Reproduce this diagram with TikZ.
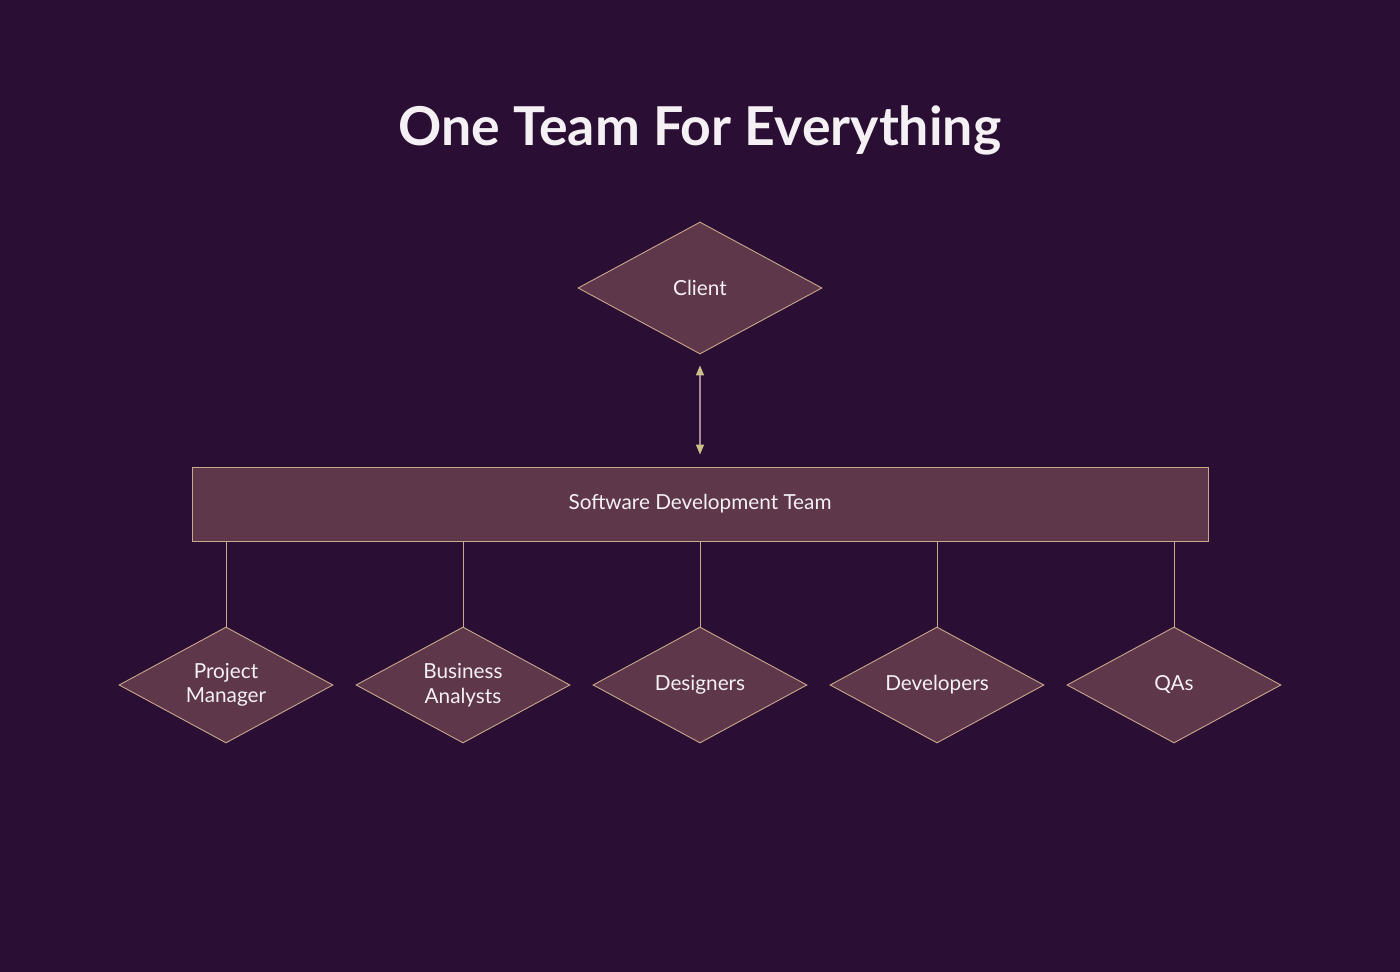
\documentclass[tikz,border=0pt]{standalone}
\usepackage{fontspec}
\setmainfont{Lato}
\usepackage{xcolor}
\usetikzlibrary{shapes.geometric, arrows.meta, positioning}

\definecolor{bgpurple}{HTML}{2A0E33}
\definecolor{boxfill}{HTML}{5E374A}
\definecolor{edgetan}{HTML}{C9A98C}
\definecolor{linkgrey}{HTML}{A68A98}
\definecolor{tipgold}{HTML}{CDBF8A}
\definecolor{textwhite}{HTML}{F4F0F4}

\begin{document}
\begin{tikzpicture}[>=Triangle, node distance=3.62cm]
            \tikzstyle{role} = [draw=edgetan, fill=boxfill, diamond, aspect=1.85, line width=0.5pt, inner sep=0pt, minimum width=4.28cm, minimum height=2.32cm, text=textwhite, align=center, font=\fontsize{11.8}{14}\selectfont]
            \tikzstyle{client} = [role, minimum width=4.88cm, minimum height=2.64cm]
            \tikzstyle{team} = [draw=edgetan, fill=boxfill, rectangle, line width=0.5pt, minimum width=20.32cm, minimum height=1.48cm, text=textwhite, font=\fontsize{11.8}{14}\selectfont]
            \tikzstyle{link} = [draw=edgetan, line width=0.5pt]

            \fill[bgpurple] (-14,-9.36) rectangle (14,10.08);
            \useasboundingbox (-14,-9.36) rectangle (14,10.08);

            \node[team] (sdt) {Software Development Team};
            \node[client, above of=sdt, node distance=4.32cm] (client) {Client};
            \node[role, below of=sdt] (des) {Designers};
            \node[role, left of=des, node distance=4.74cm] (ba) {Business\\Analysts};
            \node[role, left of=ba, node distance=4.74cm] (pm) {Project\\Manager};
            \node[role, right of=des, node distance=4.74cm] (dev) {Developers};
            \node[role, right of=dev, node distance=4.74cm] (qa) {QAs};
            \node[text=textwhite, font=\fontsize{30.5}{36}\bfseries\selectfont, above of=client, node distance=3.16cm] (title) {One Team For Everything};

            \draw[linkgrey, line width=0.8pt, {Triangle[color=tipgold, length=0.2cm, width=0.16cm]}-{Triangle[color=tipgold, length=0.2cm, width=0.16cm]}, shorten <=0.22cm, shorten >=0.24cm] (client.south) -- (sdt.north);

            \foreach \r in {pm, ba, des, dev, qa}
                \draw[link] (\r.north) -- (\r.north |- sdt.south);
        \end{tikzpicture}
\end{document}
